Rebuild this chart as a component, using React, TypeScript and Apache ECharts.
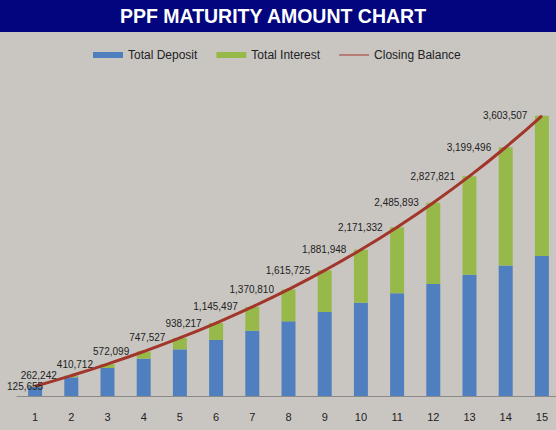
import React, { useEffect, useRef } from "react";
import * as echarts from "echarts";

const years = ["1", "2", "3", "4", "5", "6", "7", "8", "9", "10", "11", "12", "13", "14", "15"];
const totalDeposit = [120000, 240000, 360000, 480000, 600000, 720000, 840000, 960000, 1080000, 1200000, 1320000, 1440000, 1560000, 1680000, 1800000];
const totalInterest = [5655, 22242, 50712, 92099, 147527, 218217, 305497, 410810, 535725, 681948, 851332, 1045893, 1267821, 1519496, 1803507];
const closingBalance = [125655, 262242, 410712, 572099, 747527, 938217, 1145497, 1370810, 1615725, 1881948, 2171332, 2485893, 2827821, 3199496, 3603507];

export default function App() {
  const ref = useRef<HTMLDivElement>(null);
  useEffect(() => {
    if (!ref.current) return;
    const chart = echarts.init(ref.current, null, { renderer: "svg" });
    const lineData = closingBalance.map((v, i) =>
      i === 0 ? { value: v, label: { position: "inside", offset: [-10, 0] } } : v
    );
    chart.setOption({
      animation: false,
      backgroundColor: "#c9c6c2",
      textStyle: { fontFamily: "Liberation Sans, Arial, sans-serif" },
      graphic: [
        { type: "rect", left: 0, top: 0, shape: { width: 560, height: 32 }, style: { fill: "#02057d" }, z: 0 },
        {
          type: "text",
          x: 273,
          y: 16,
          style: {
            text: "PPF MATURITY AMOUNT CHART",
            fill: "#ffffff",
            font: "bold 19.5px 'Liberation Sans', Arial, sans-serif",
            textAlign: "center",
            textVerticalAlign: "middle",
          },
          z: 1,
        },
      ],
      legend: {
        top: 44,
        left: 88,
        itemWidth: 30,
        itemHeight: 6,
        itemGap: 19,
        textStyle: { fontSize: 12, color: "#222" },
        data: [
          { name: "Total Deposit", icon: "rect" },
          { name: "Total Interest", icon: "rect" },
          { name: "Closing Balance", icon: "path://M0 0H60V2H0Z" },
        ],
      },
      grid: { left: 17, right: 0, top: 85, bottom: 34 },
      xAxis: {
        type: "category",
        data: years,
        axisLine: { lineStyle: { color: "#8a8a8a", width: 1 } },
        axisTick: { show: false },
        axisLabel: { color: "#222", fontSize: 11, margin: 15 },
      },
      yAxis: {
        type: "value",
        min: 0,
        max: 4000000,
        show: false,
        splitLine: { show: false },
      },
      series: [
        {
          name: "Total Deposit",
          type: "bar",
          stack: "total",
          data: totalDeposit,
          barWidth: 14,
          itemStyle: { color: "#4f7fbe" },
        },
        {
          name: "Total Interest",
          type: "bar",
          stack: "total",
          data: totalInterest,
          barWidth: 14,
          itemStyle: { color: "#97b94a" },
        },
        {
          name: "Closing Balance",
          type: "line",
          data: lineData,
          smooth: true,
          symbol: "circle",
          symbolSize: 1,
          showSymbol: true,
          lineStyle: { color: "#a2362b", width: 3 },
          itemStyle: { color: "#a2362b" },
          label: {
            show: true,
            position: "left",
            distance: 14,
            fontSize: 10,
            color: "#222",
            formatter: (p: any) => Number(p.value).toLocaleString("en-US"),
          },
          z: 5,
        },
      ],
    });
    return () => chart.dispose();
  }, []);
  return <div ref={ref} style={{ position: "fixed", left: 0, top: 0, width: 560, height: 430 }} />;
}
